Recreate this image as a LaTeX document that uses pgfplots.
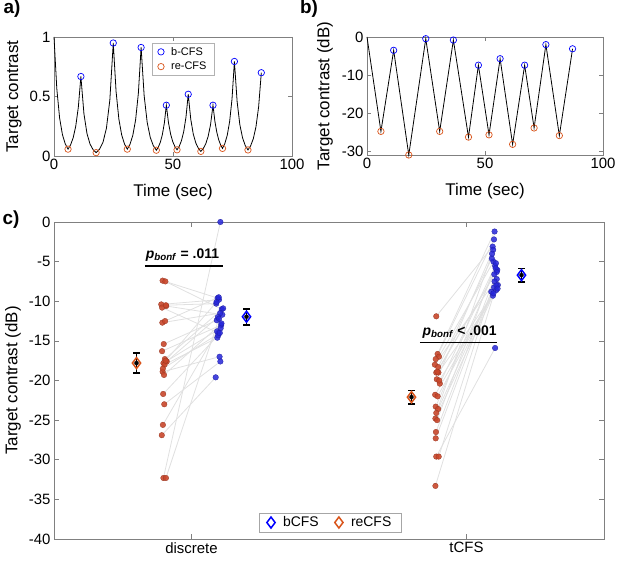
\documentclass[border=0pt]{standalone}
\usepackage{fontspec}
\setmainfont{Liberation Sans}
\usepackage{pgfplots}
\usepackage{pgfplotstable}
\pgfplotsset{compat=1.18}
\definecolor{mblue}{rgb}{0,0,1}
\definecolor{mred}{rgb}{0.85,0.325,0.098}
\definecolor{dotred}{rgb}{0.79,0.28,0.17}
\definecolor{dotblue}{rgb}{0.15,0.15,0.85}
\definecolor{axgray}{gray}{0.5}

\pgfplotstableread{
t v
0 1
1.18 0.565
2.36 0.319
3.54 0.180
4.72 0.102
5.9 0.0575
6.98 0.094
8.06 0.1535
9.14 0.2506
10.22 0.4093
11.3 0.668
12.58 0.3548
13.86 0.1884
15.14 0.1
16.42 0.0531
17.7 0.0282
19.14 0.0569
20.58 0.1151
22.02 0.2325
23.46 0.4699
24.9 0.9495
26.08 0.542
27.26 0.3094
28.44 0.1766
29.62 0.1008
30.8 0.0575
31.96 0.1
33.12 0.1738
34.28 0.302
35.44 0.5248
36.6 0.912
37.88 0.507
39.16 0.2818
40.44 0.1567
41.72 0.0871
43.0 0.0484
43.84 0.0748
44.68 0.1156
45.52 0.1786
46.36 0.2761
47.2 0.4266
48.1 0.280
49.0 0.1837
49.9 0.1205
50.8 0.0791
51.7 0.0519
52.64 0.0822
53.58 0.1303
54.52 0.2065
55.46 0.3273
56.4 0.5188
57.46 0.309
58.52 0.1841
59.58 0.1096
60.64 0.0653
61.7 0.0389
62.72 0.0628
63.74 0.1014
64.76 0.1637
65.78 0.2643
66.8 0.4266
67.6 0.2917
68.4 0.1995
69.2 0.1365
70.0 0.0933
70.8 0.0638
71.8 0.1057
72.8 0.175
73.8 0.2897
74.8 0.4798
75.8 0.7943
76.94 0.4581
78.08 0.2643
79.22 0.1524
80.36 0.0879
81.5 0.0507
82.62 0.0857
83.74 0.1449
84.86 0.2449
85.98 0.414
87.1 0.6999
}\curveA

\pgfplotstableread{
t v db
11.3 0.668 -3.5
24.9 0.9495 -0.45
36.6 0.912 -0.8
47.2 0.4266 -7.4
56.4 0.5188 -5.7
66.8 0.4266 -7.4
75.8 0.7943 -2.0
87.1 0.6999 -3.1
}\peaks

\pgfplotstableread{
t v db
5.9 0.0575 -24.8
17.7 0.0282 -31.0
30.8 0.0575 -24.8
43.0 0.0484 -26.3
51.7 0.0519 -25.7
61.7 0.0389 -28.2
70.8 0.0638 -23.9
81.5 0.0507 -25.9
}\troughs

\pgfplotstableread{
t db
0 0
5.9 -24.8
11.3 -3.5
17.7 -31.0
24.9 -0.45
30.8 -24.8
36.6 -0.8
43.0 -26.3
47.2 -7.4
51.7 -25.7
56.4 -5.7
61.7 -28.2
66.8 -7.4
70.8 -23.9
75.8 -2.0
81.5 -25.9
87.1 -3.1
}\curveB

\pgfplotstableread{
xr yr xb yb
0.895 -7.4 1.095 -9.6
0.905 -7.5 1.110 -11.0
0.890 -10.4 1.100 -9.8
0.908 -10.6 1.112 -11.7
0.893 -10.8 1.098 -14.0
0.907 -10.5 1.090 -10.3
0.894 -12.7 1.104 -11.5
0.899 -15.4 1.092 -12.4
0.893 -16.3 1.108 -13.0
0.903 -17.3 1.115 -10.9
0.910 -17.6 1.096 -12.0
0.898 -17.8 1.106 -13.4
0.902 -18.0 1.094 -14.6
0.895 -18.9 1.102 -17.0
0.900 -19.3 1.109 -12.8
0.897 -21.7 1.097 -14.3
0.901 -23.0 1.105 -17.6
0.896 -25.6 1.093 -13.8
0.892 -26.9 1.088 -19.6
0.898 -32.3 1.105 0.0
0.907 -32.3 1.100 -12.2
0.906 -17.5 1.091 -10.1
0.904 -12.5 1.099 -9.5
0.896 -18.5 1.103 -14.0
}\disc

\pgfplotstableread{
xr yr xb yb
1.890 -11.9 2.095 -3.1
1.895 -16.65 2.102 -1.2
1.900 -17.0 2.098 -5.0
1.888 -17.3 2.100 -2.2
1.885 -18.0 2.110 -7.2
1.897 -18.3 2.092 -4.6
1.890 -19.0 2.112 -6.05
1.898 -19.0 2.108 -8.6
1.892 -19.85 2.097 -3.5
1.903 -20.4 2.104 -5.55
1.886 -21.8 2.114 -7.95
1.888 -23.3 2.106 -5.85
1.897 -23.6 2.100 -8.25
1.890 -24.1 2.093 -4.0
1.887 -24.8 2.096 -9.3
1.889 -26.5 2.110 -6.3
1.888 -27.3 2.090 -8.8
1.890 -29.6 2.104 -15.9
1.899 -29.6 2.102 -7.5
1.887 -33.3 2.109 -8.0
1.894 -18.9 2.101 -6.6
1.901 -20.0 2.113 -8.4
1.895 -22.0 2.098 -9.0
1.893 -25.0 2.107 -5.2
}\tcfs

\pgfplotstableread{
x y e
1.2 -11.95 1.0
2.2 -6.7 0.83
}\sumblue

\pgfplotstableread{
x y e
0.8 -17.8 1.3
1.8 -22.1 0.85
}\sumred

\pgfplotsset{
  mstyle/.style={
    scale only axis,
    axis line style={axgray},
    tick style={axgray, line width=0.5pt},
    tick align=inside,
    major tick length=4bp,
    ticklabel style={font=\fontsize{15}{18}\selectfont},
    label style={font=\fontsize{17}{20}\selectfont},
    /pgf/number format/assume math mode=true,
  }
}

\begin{document}
\begin{tikzpicture}
\path[use as bounding box] (0,0) rectangle (617bp,561bp);

% Panel a
\begin{axis}[mstyle,
  at={(54bp,405bp)}, anchor=south west,
  width=238bp, height=119bp,
  xmin=0, xmax=100, ymin=0, ymax=1,
  xtick={0,50,100}, ytick={0,0.5,1},
  xlabel={Time (sec)}, ylabel={Target contrast},
  xlabel style={at={(axis description cs:0.5,-0.30)}, anchor=center},
  ylabel style={at={(axis description cs:-0.168,0.5)}, anchor=center},
  clip=false,
  legend style={at={(0.41,0.95)}, anchor=north west, draw=gray!60,
    font=\fontsize{11}{13}\selectfont, inner xsep=6bp, inner ysep=2bp, row sep=1.5bp,
    /tikz/every odd column/.append style={column sep=5bp}},
  legend cell align=left,
]
\addplot[black, line width=0.8pt, mark=none, forget plot] table[x=t,y=v] {\curveA};
\addplot[only marks, mark=o, mark size=3.2bp, mark options={draw=mblue, line width=0.7pt}] table[x=t,y=v] {\peaks};
\addlegendentry{b-CFS}
\addplot[only marks, mark=o, mark size=3.2bp, mark options={draw=mred, line width=0.7pt}] table[x=t,y=v] {\troughs};
\addlegendentry{re-CFS}
\end{axis}

% Panel b
\begin{axis}[mstyle,
  at={(367bp,406bp)}, anchor=south west,
  width=236bp, height=118bp,
  xmin=0, xmax=100, ymin=-31, ymax=0,
  xtick={0,50,100}, ytick={-30,-20,-10,0},
  xlabel={Time (sec)}, ylabel={Target contrast (dB)},
  xlabel style={at={(axis description cs:0.5,-0.31)}, anchor=center},
  ylabel style={at={(axis description cs:-0.178,0.5)}, anchor=center},
  clip=false,
]
\addplot[black, line width=0.8pt, mark=none] table[x=t,y=db] {\curveB};
\addplot[only marks, mark=o, mark size=3.2bp, mark options={draw=mblue, line width=0.7pt}] table[x=t,y=db] {\peaks};
\addplot[only marks, mark=o, mark size=3.2bp, mark options={draw=mred, line width=0.7pt}] table[x=t,y=db] {\troughs};
\end{axis}

% Panel c
\begin{axis}[mstyle,
  at={(54bp,22bp)}, anchor=south west,
  width=550bp, height=317bp,
  xmin=0.5, xmax=2.5, ymin=-40, ymax=0,
  xtick={1,2}, xticklabels={discrete,tCFS},
  ytick={-40,-35,-30,-25,-20,-15,-10,-5,0},
  major tick length=5bp,
  ylabel={Target contrast (dB)},
  ylabel style={at={(axis description cs:-0.0745,0.5)}, anchor=center},
  clip=false,
  legend style={at={(0.502,0.022)}, anchor=south, legend columns=2, draw=gray!70,
    font=\fontsize{14}{16}\selectfont, inner xsep=8bp, inner ysep=1.5bp,
    /tikz/every odd column/.append style={column sep=6bp},
    /tikz/every even column/.append style={column sep=14bp}},
]
% connecting lines
\addplot[forget plot, mark=none, black!12, line width=0.8pt,
  quiver={u=\thisrow{xb}-\thisrow{xr}, v=\thisrow{yb}-\thisrow{yr}}] table[x=xr,y=yr] {\disc};
\addplot[forget plot, mark=none, black!12, line width=0.8pt,
  quiver={u=\thisrow{xb}-\thisrow{xr}, v=\thisrow{yb}-\thisrow{yr}}] table[x=xr,y=yr] {\tcfs};
% dots
\addplot[forget plot, only marks, mark=*, mark size=2.8bp, mark options={fill=dotred, draw=dotred!75!black, line width=0.3pt, fill opacity=0.9}] table[x=xr,y=yr] {\disc};
\addplot[forget plot, only marks, mark=*, mark size=2.8bp, mark options={fill=dotred, draw=dotred!75!black, line width=0.3pt, fill opacity=0.9}] table[x=xr,y=yr] {\tcfs};
\addplot[forget plot, only marks, mark=*, mark size=2.8bp, mark options={fill=dotblue, draw=dotblue!75!black, line width=0.3pt, fill opacity=0.85}] table[x=xb,y=yb] {\disc};
\addplot[forget plot, only marks, mark=*, mark size=2.8bp, mark options={fill=dotblue, draw=dotblue!75!black, line width=0.3pt, fill opacity=0.85}] table[x=xb,y=yb] {\tcfs};
% significance bars
\addplot[forget plot, black, line width=1.5pt, mark=none] coordinates {(0.83,-5.55) (1.116,-5.55)};
\addplot[forget plot, black, line width=1.5pt, mark=none] coordinates {(1.83,-15.2) (2.11,-15.2)};
\node[font=\fontsize{14}{16}\selectfont\bfseries] at (axis cs:0.967,-4.2) {\textit{p}\textsubscript{\textit{bonf}} = .011};
\node[font=\fontsize{14}{16}\selectfont\bfseries] at (axis cs:1.975,-13.9) {\textit{p}\textsubscript{\textit{bonf}} < .001};
% summary diamonds
\addplot[only marks, mark=diamond, mark size=5.5bp, mark options={draw=mblue, line width=1.5pt, fill=none}] table[x=x,y=y] {\sumblue};
\addlegendentry{bCFS}
\addplot[only marks, mark=diamond, mark size=5.5bp, mark options={draw=mred, line width=1.5pt, fill=none}] table[x=x,y=y] {\sumred};
\addlegendentry{reCFS}
% error bars
\addplot[forget plot, only marks, mark=none,
  error bars/.cd, y dir=both, y explicit,
  error bar style={black, line width=1.8pt},
  error mark options={black, line width=1.8pt, mark size=3.5bp, rotate=90}]
  table[x=x,y=y,y error=e] {\sumblue};
\addplot[forget plot, only marks, mark=none,
  error bars/.cd, y dir=both, y explicit,
  error bar style={black, line width=1.8pt},
  error mark options={black, line width=1.8pt, mark size=3.5bp, rotate=90}]
  table[x=x,y=y,y error=e] {\sumred};
\end{axis}

\node[font=\bfseries\fontsize{19}{22}\selectfont] at (12bp,552bp) {a)};
\node[font=\bfseries\fontsize{19}{22}\selectfont] at (309bp,552bp) {b)};
\node[font=\bfseries\fontsize{19}{22}\selectfont] at (11bp,341bp) {c)};
\end{tikzpicture}
\end{document}
